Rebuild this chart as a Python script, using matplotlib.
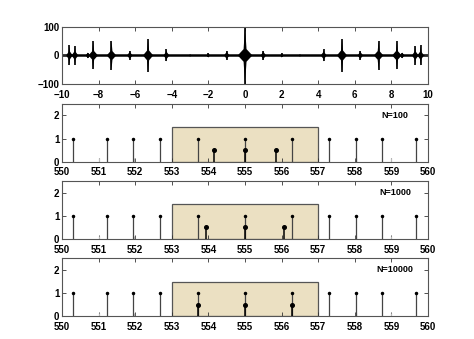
import numpy as np
import matplotlib
matplotlib.use('Agg')
import matplotlib.pyplot as plt
from matplotlib.patches import Rectangle

plt.rcParams['font.family'] = ['Liberation Sans', 'DejaVu Sans']
plt.rcParams['font.size'] = 7
plt.rcParams['font.weight'] = 'bold'

# top panel: spikes of the signal (position, amplitude, blob half width, blob half height)
spike_pos = [-9.6, -9.3, -8.6, -8.3, -7.3, -6.3, -5.3, -4.3, -3.0, -2.0, -1.0, 0.0,
             1.0, 2.0, 3.0, 4.3, 5.3, 6.3, 7.3, 8.3, 8.6, 9.3, 9.6]
spike_amp = [35, 33, 10, 49, 51, 16, 58, 21, 3, 7, 16, 100,
             16, 7, 3, 21, 58, 16, 51, 49, 10, 33, 35]
blob_w = [0.18, 0.18, 0.12, 0.26, 0.26, 0.15, 0.28, 0.16, 0.07, 0.08, 0.15, 0.4,
          0.15, 0.08, 0.07, 0.16, 0.28, 0.15, 0.26, 0.26, 0.12, 0.18, 0.18]
blob_h = [13, 13, 7, 15, 15, 10, 17, 11, 4, 6, 10, 22,
          10, 6, 4, 11, 17, 10, 15, 15, 7, 13, 13]

# lower panels
unit_pos = [550.30, 551.23, 551.94, 552.68, 553.72, 555.0, 556.28, 557.30,
            558.04, 558.74, 559.68]
stub_pos = [551.0, 551.97, 558.03, 559.0]
half_pos = {
    'N=100': [554.14, 555.0, 555.84],
    'N=1000': [553.93, 555.0, 556.07],
    'N=10000': [553.72, 555.0, 556.28],
}

fig = plt.figure(figsize=(4.74, 3.39), dpi=100)
frame = '#555555'


def style(ax):
    ax.tick_params(direction='in', top=True, right=True, length=3, width=0.6,
                   color='#333333', labelsize=7)
    ax.tick_params(axis='x', pad=4)
    ax.tick_params(axis='y', pad=2)
    for s in ax.spines.values():
        s.set_color(frame)
        s.set_linewidth(0.8)


ax0 = fig.add_axes([0.131, 0.752, 0.772, 0.169])
ax0.axhline(0, color='black', lw=1.8, zorder=1)
ax0.vlines(spike_pos, [-a for a in spike_amp], spike_amp, color='black', lw=1.2)
for p, a, w, h in zip(spike_pos, spike_amp, blob_w, blob_h):
    iw = w * 0.2
    xs = [p - w, p - iw, p, p + iw, p + w, p + iw, p, p - iw]
    ys = [0, h, a, h, 0, -h, -a, -h]
    ax0.fill(xs, ys, color='black', lw=0)
ax0.set_xlim(-10, 10)
ax0.set_ylim(-100, 100)
ax0.set_xticks(range(-10, 11, 2))
ax0.set_yticks([-100, 0, 100])
style(ax0)

bottoms = [0.523, 0.295, 0.067]
for b, (lab, hp) in zip(bottoms, half_pos.items()):
    ax = fig.add_axes([0.131, b, 0.772, 0.171])
    ax.add_patch(Rectangle((553, 0), 4, 1.5, facecolor='#ebe0c2',
                           edgecolor='#555555', lw=0.9, zorder=1))
    ax.vlines(stub_pos, 0, 0.15, color='#bbbbbb', lw=0.9, zorder=2)
    ax.vlines(unit_pos, 0, 1, color='#444444', lw=0.9, zorder=2)
    ax.plot(unit_pos, [1] * len(unit_pos), 'o', color='black', ms=1.5, zorder=3)
    ax.vlines(hp, 0, 0.5, color='black', lw=1.1, zorder=3)
    ax.plot(hp, [0.5] * len(hp), 'o', color='black', ms=2.6, zorder=4)
    ax.text(559.1, 2.0, lab, ha='center', va='center', fontsize=6.5)
    ax.set_xlim(550, 560)
    ax.set_ylim(0, 2.5)
    ax.set_xticks(range(550, 561))
    ax.set_yticks([0, 1, 2])
    style(ax)

fig.savefig('out.png', dpi=100)
